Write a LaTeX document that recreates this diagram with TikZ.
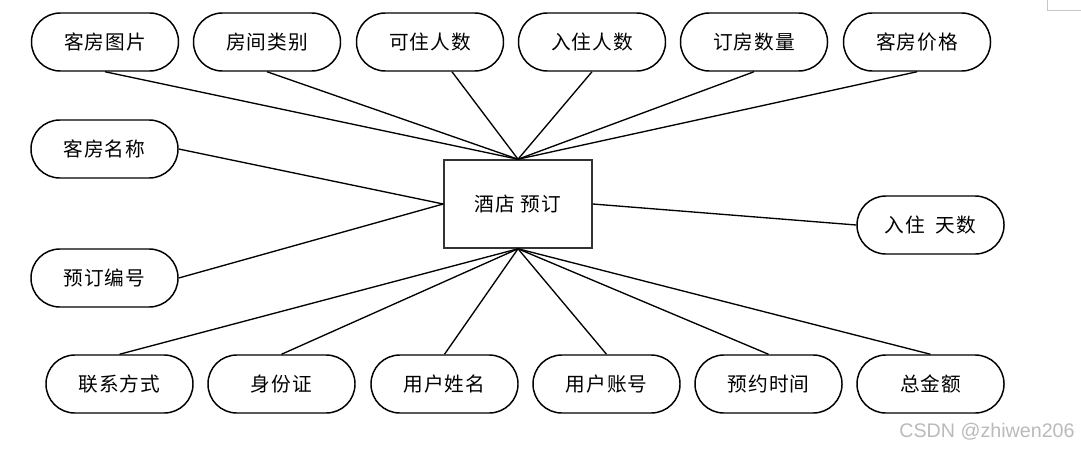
\documentclass[tikz,border=0pt]{standalone}
\usepackage{fontspec}
\newfontfamily\cjk[LetterSpace=5]{Noto Sans CJK SC}
\newfontfamily\wmfont{Liberation Sans}
\usetikzlibrary{positioning}
\colorlet{rule}{black}
\colorlet{frame}{black!80}
\colorlet{wmark}{black!27}
\tikzset{
  attr/.style   ={draw=rule, rounded corners=0.72cm, inner sep=0pt,
                  minimum width=3.675cm, minimum height=1.45cm,
                  font=\cjk\fontsize{14pt}{16pt}\selectfont, line width=1.05pt},
  entity/.style ={draw=frame, inner sep=0pt, line width=1.1pt,
                  minimum width=3.7cm, minimum height=2.2cm,
                  font=\cjk\fontsize{14pt}{16pt}\selectfont},
  link/.style   ={-, rule, line width=0.95pt},
  wmtext/.style ={text=wmark, font=\wmfont\fontsize{14pt}{16pt}\selectfont,
                  inner sep=0pt},
}

\begin{document}
\begin{tikzpicture}
\useasboundingbox (0,0) rectangle (27.025,-11.225);

% entity
\node[entity] (HB) at (12.95, -5.1) {酒店 预订};

% top row
\node[attr] (KT) at ( 2.625, -1.05) {客房图片};
\node[attr] (FL) at ( 6.675, -1.05) {房间类别};
\node[attr] (KZ) at (10.75,  -1.05) {可住人数};
\node[attr] (RZ) at (14.8,   -1.05) {入住人数};
\node[attr] (DF) at (18.85,  -1.05) {订房数量};
\node[attr] (KJ) at (22.925, -1.05) {客房价格};
\draw[link] (KT.south) -- (HB.north);
\draw[link] (FL.south) -- (HB.north);
\draw[link] ([xshift=0.55cm]KZ.south) -- (HB.north);
\draw[link] (RZ.south) -- (HB.north);
\draw[link] (DF.south) -- (HB.north);
\draw[link] (KJ.south) -- (HB.north);

% left and right
\node[attr] (KM) at ( 2.6125, -3.725) {客房名称};
\node[attr] (YB) at ( 2.6125, -6.95)  {预订编号};
\node[attr] (TS) at (23.2625, -5.625) {入住\ \ 天数};
\draw[link] (KM.east) -- (HB.west);
\draw[link] (YB.east) -- (HB.west);
\draw[link] (HB.east) -- (TS.west);

% bottom row
\node[attr] (LX) at ( 2.9875, -9.6) {联系方式};
\node[attr] (SF) at ( 7.0375, -9.6) {身份证};
\node[attr] (XM) at (11.1125, -9.6) {用户姓名};
\node[attr] (ZH) at (15.1625, -9.6) {用户账号};
\node[attr] (YY) at (19.2125, -9.6) {预约时间};
\node[attr] (ZJ) at (23.2625, -9.6) {总金额};
\draw[link] (HB.south) -- (LX.north);
\draw[link] (HB.south) -- (SF.north);
\draw[link] (HB.south) -- (XM.north);
\draw[link] (HB.south) -- (ZH.north);
\draw[link] (HB.south) -- (YY.north);
\draw[link] (HB.south) -- (ZJ.north);

% page corner and watermark
\draw[black!22, line width=0.4pt] (26.175, 0) -- (26.175, -0.25) -- (27.025, -0.25);
\node[wmtext] (WM) at (24.675, -10.8) {CSDN @zhiwen206};

\end{tikzpicture}
\end{document}
